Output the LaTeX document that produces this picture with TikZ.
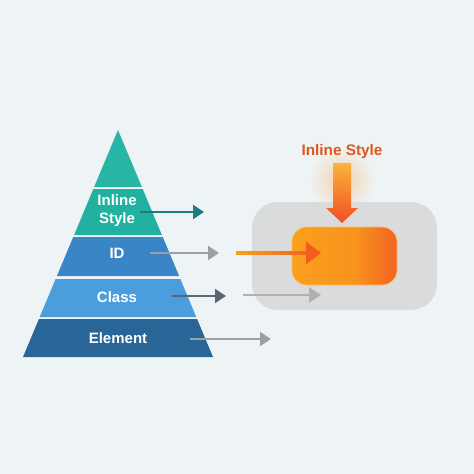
\documentclass[tikz,border=0pt]{standalone}
\usepackage{fontspec}
\setmainfont{Liberation Sans}
\usetikzlibrary{arrows.meta}
\definecolor{bg}{HTML}{EEF4F6}
\definecolor{tealA}{HTML}{27B6A5}
\definecolor{tealB}{HTML}{22B1A0}
\definecolor{idblue}{HTML}{3A85C6}
\definecolor{clblue}{HTML}{4A9EDB}
\definecolor{elblue}{HTML}{2A6598}
\definecolor{darkteal}{HTML}{1B7D82}
\definecolor{arrgray}{HTML}{9AA0A6}
\definecolor{darkgray}{HTML}{5B6670}
\definecolor{lightgray}{HTML}{AEB0B2}
\definecolor{boxgray}{HTML}{DADBDC}
\definecolor{orangeA}{HTML}{FA9F1C}
\definecolor{orangeB}{HTML}{F26522}
\definecolor{orangeY}{HTML}{FBB33B}
\definecolor{orangeR}{HTML}{F04E23}
\definecolor{labelorange}{HTML}{E0561C}
\pgfdeclarehorizontalshading{obox}{100bp}{color(0bp)=(orangeA); color(25bp)=(orangeA); color(55bp)=(orangeA!80!orangeB); color(68bp)=(orangeB!75!orangeA); color(75bp)=(orangeB); color(100bp)=(orangeB)}
\tikzset{
  lbl/.style={text=white, font=\bfseries\fontsize{15}{17}\selectfont, align=center, inner sep=0pt},
  pyarrow/.style={line width=2.4pt, -{Triangle[length=11pt,width=14pt]}},
}
\begin{document}
\begin{tikzpicture}[x=1pt,y=-1pt]
\fill[bg] (0,0) rectangle (474,474);
\useasboundingbox (0,0) rectangle (474,474);
% pyramid
\fill[tealA] (118,130) -- (141.9,187) -- (94.1,187) -- cycle;
\fill[tealB] (93.3,189) -- (142.7,189) -- (161.9,235) -- (74.1,235) -- cycle;
\fill[idblue] (73.2,237) -- (162.8,237) -- (179.1,276) -- (56.9,276) -- cycle;
\fill[clblue] (55.6,279) -- (180.4,279) -- (196.3,317) -- (39.7,317) -- cycle;
\fill[elblue] (38.9,319) -- (197.1,319) -- (213,357) -- (23,357) -- cycle;
\node[lbl] (inl) at (117,211) {Inline\\[1pt]Style};
\node[lbl] (id) at (117,253) {ID};
\node[lbl] (cls) at (117,297) {Class};
\node[lbl] (el) at (118,338) {Element};
% arrow end coordinates
\coordinate (a1s) at (140,212); \coordinate (a1e) at (204,212);
\coordinate (a2s) at (150,253); \coordinate (a2e) at (219,253);
\coordinate (a3s) at (172,296); \coordinate (a3e) at (226,296);
\coordinate (a4s) at (190,339); \coordinate (a4e) at (271,339);
% glow
\shade[inner color=orange!30!bg, outer color=bg] (342,180) ellipse (34 and 34);
% gray box
\fill[boxgray, rounded corners=26pt] (252,202) rectangle (437,310);
% orange box
\shade[shading=obox, rounded corners=15pt, draw=orangeA!70!white, line width=0.8pt] (292,227) rectangle (397,285);
\node[inner sep=0pt, minimum width=105pt, minimum height=58pt] (ob) at (344.5,256) {};
% down arrow
\shade[top color=orangeY, bottom color=orangeR] (333,163) -- (351,163) -- (351,208) -- (358,208) -- (342,223) -- (326,208) -- (333,208) -- cycle;
\node[text=labelorange, font=\bfseries\fontsize{15.3}{17}\selectfont, inner sep=0pt] (ist) at (342,152) {Inline Style};
% pyramid arrows
\draw[pyarrow, darkteal] (a1s) -- (a1e);
\draw[pyarrow, arrgray, line width=2pt] (a2s) -- (a2e);
\draw[pyarrow, darkgray, line width=2pt] (a3s) -- (a3e);
\draw[pyarrow, arrgray, line width=2pt] (a4s) -- (a4e);
% orange arrow into box
\coordinate (o1s) at (236,253); \coordinate (o1e) at (321,253);
\draw[line width=2.6pt, -{Triangle[length=15pt,width=22pt]}, draw=orangeB!90!red, fill=orangeB!90!red] (o1s) -- (o1e);
\shade[left color=orangeA, right color=orangeB] (236,251.7) rectangle (306,254.3);
% gray arrow in box
\coordinate (g1s) at (243,295); \coordinate (g1e) at (321,295);
\draw[lightgray, line width=2pt, -{Triangle[length=12pt,width=15pt]}] (g1s) -- (g1e);
\end{tikzpicture}
\end{document}
